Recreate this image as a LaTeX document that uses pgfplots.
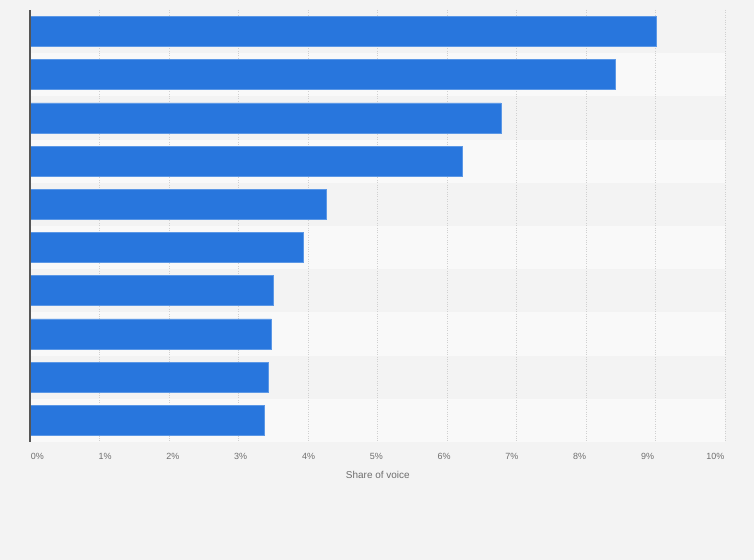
\documentclass[border=0pt]{standalone}
\usepackage{pgfplots}
\pgfplotsset{compat=1.18}
\usepackage{fontspec}
\setmainfont{Liberation Sans}

\definecolor{pagebg}{HTML}{F3F3F3}
\definecolor{banddark}{HTML}{F3F3F3}
\definecolor{bandlight}{HTML}{F9F9F9}
\definecolor{barblue}{HTML}{2876DD}
\definecolor{baredge}{HTML}{5C98E6}
\definecolor{gridgray}{HTML}{D0D0D0}
\definecolor{ticktext}{HTML}{6E6E6E}
\definecolor{axisgray}{HTML}{555555}

\begin{document}
\begin{tikzpicture}[x=1bp,y=1bp]
  \begin{axis}[
      set layers=standard,
      at={(30.3bp,118bp)}, anchor=south west,
      scale only axis, width=695bp, height=432bp,
      xbar, bar width=30bp,
      xmin=0, xmax=10,
      ymin=0.5, ymax=10.5, y dir=reverse,
      ytick=\empty,
      xtick={0,1,...,10},
      xticklabel={\pgfmathsetmacro\lblshift{7-1.7*\tick}%
        \hspace*{\lblshift bp}\hspace*{\lblshift bp}%
        \pgfmathprintnumber{\tick}\%},
      /pgf/number format/assume math mode=true,
      xticklabel style={font=\fontsize{9}{10}\selectfont, text=ticktext, yshift=-8bp},
      major tick length=0pt,
      axis line style={draw=none},
      xmajorgrids,
      major grid style={draw=gridgray, dotted, line width=0.8bp},
      clip=false,
    ]
    \begin{pgfonlayer}{axis background}
      % page background
      \fill[pagebg] ([xshift=-30.3bp,yshift=-118bp]rel axis cs:0,0)
        rectangle ++(754bp,560bp);
      % alternating row bands, behind the grid
      \pgfplotsinvokeforeach{1,3,5,7,9}{
        \fill[banddark] (axis cs:0,#1-0.5) rectangle (axis cs:10,#1+0.5);
      }
      \pgfplotsinvokeforeach{2,4,6,8,10}{
        \fill[bandlight] (axis cs:0,#1-0.5) rectangle (axis cs:10,#1+0.5);
      }
    \end{pgfonlayer}
    \addplot[fill=barblue, draw=baredge, line width=0.6bp] coordinates {
      (9.01,1) (8.42,2) (6.77,3) (6.22,4) (4.26,5)
      (3.93,6) (3.50,7) (3.47,8) (3.43,9) (3.37,10)
    };
    \node[font=\fontsize{10}{12}\selectfont, text=ticktext]
      at (rel axis cs:0.5,0) [yshift=-32.7bp] {Share of voice};
    % left axis line, over the bars
    \begin{pgfonlayer}{axis foreground}
      \draw[axisgray, line width=1.8bp] ([xshift=-0.6bp]rel axis cs:0,0)
        -- ([xshift=-0.6bp]rel axis cs:0,1);
    \end{pgfonlayer}
  \end{axis}
\end{tikzpicture}
\end{document}
